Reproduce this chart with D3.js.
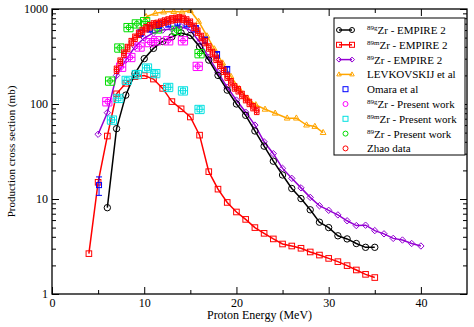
<!DOCTYPE html>
<html><head><meta charset="utf-8">
<script src="https://cdn.jsdelivr.net/npm/d3@7"></script>
<style>
body{margin:0;background:#fff}
svg{display:block}
text{font-family:"Liberation Serif","Times New Roman",serif;fill:#000}
</style>
</head><body>
<svg id="c" width="474" height="327"></svg>
<script>
// ---------------- data ----------------
const xTicks = [0, 10, 20, 30, 40];
const xMinorTicks = [5, 15, 25, 35];
const yTicks = [1, 10, 100, 1000];

// 89gZr - EMPIRE 2 (black circles)
const empGE  = [6,7,8,9,10,11,12,13,14,15,16,17,18,19,20,21,22,23,24,25,26,27,28,29,30,31,32,33,34,35];
const empGXs = [8.1,55,124,210,300,385,455,510,560,527,400,290,200,140,100,76,52,36,25,17.9,12.9,10.1,7.7,5.7,5.0,4.1,3.8,3.4,3.1,3.1];

// 89mZr - EMPIRE 2 (red squares)
const empME  = [4,5,6,7,8,9,10,11,12,13,14,15,16,17,18,19,20,21,22,23,24,25,26,27,28,29,30,31,32,33,34,35];
const empMXs = [2.66,15,46,128,165,194,199,183,146,106,89,73,47,19.4,12.7,9.2,7.3,6.1,5.0,4.35,3.8,3.36,3.2,3.03,2.77,2.57,2.37,2.19,1.99,1.79,1.61,1.49];

// 89Zr - EMPIRE 2 (violet diamonds)
const empE  = [5,6,7,8,9,10,11,12,13,14,15,16,17,18,19,20,21,22,23,24,25,26,27,28,29,30,31,32,33,34,35,36,37,38,39,40];
const empXs = [48,81,200,290,400,495,560,600,615,650,600,450,310,215,150,110,82,60,40,30,21,16.5,13.1,10.4,8.5,7.6,6.8,5.9,5.25,5.3,4.65,4.3,3.85,3.7,3.4,3.2];

// LEVKOVSKIJ et al (orange triangles)
const levE  = [10.2,11.2,12.1,13.2,14.1,15.0,15.9,16.8,17.6,18.5,19.4,20.3,21.2,22.1,23.1,24.2,25.5,26.5,27.6,28.5,29.4];
const levXs = [830,900,930,940,930,960,740,520,380,270,195,145,115,98,88,80,71,71,60,58,50];

// Omara et al (blue squares, y error bars)
const omaE   = [5.1,9.6,10.6,11.6,12.6,13.6,14.6,15.6,16.6,17.9,19.0];
const omaXs  = [14,560,620,680,700,720,700,620,470,330,230];
const omaErr = [0.22,0.08,0.08,0.08,0.08,0.08,0.08,0.08,0.08,0.08,0.08];

// 89gZr - Present work (magenta)
const pgE  = [6.0,7.5,8.5,9.5,10.6,11.3,12.6,14.2,15.8];
const pgXs = [106,245,310,400,445,465,465,465,250];

// 89mZr - Present work (cyan)
const pmE  = [6.5,7.2,8.1,9.2,10.3,11.2,12.6,14.2,16.0];
const pmXs = [68,115,178,205,240,210,150,138,88];

// 89Zr - Present work (green)
const ptE  = [6.3,7.3,8.3,9.2,10.1,11.4,13.5,16.0];
const ptXs = [175,390,640,700,740,620,600,340];

// Zhao data (red circles)
const zhE  = [7.0,7.4,7.8,8.2,8.6,9.0,9.4,9.8,10.2,10.6,11.0,11.4,11.8,12.2,12.6,13.0,13.4,13.8,14.2,14.6,15.0,15.4,15.8,16.2,16.6,17.0,17.4,17.8,18.2,18.6,19.0,19.4,19.8,20.2,20.6,21.0,21.4,21.8,22.2];
const zhXs = [230,280,340,390,450,500,550,590,630,660,690,700,720,740,760,780,790,800,790,760,720,650,580,510,450,395,345,300,260,225,195,170,150,140,125,113,103,93,85];

// ---------------- drawing ----------------
const svg = d3.select("#c");
const L = 52, R = 467, T = 9, B = 294;
const x = d3.scaleLinear().domain([0, 45]).range([L, R]);
const y = d3.scaleLog().domain([1, 1000]).range([B, T]);

const C = {
  black: "#000000", red: "#ff0000", violet: "#9400d3", orange: "#ffa500",
  blue: "#0000ff", magenta: "#ff00ff", cyan: "#00e0e0", green: "#00dd00", zhao: "#ff0000"
};

function marker(g, type, cx, cy, r, color) {
  if (type === "circle") {
    g.append("circle").attr("cx", cx).attr("cy", cy).attr("r", r)
      .attr("fill", "none").attr("stroke", color).attr("stroke-width", 1);
  } else if (type === "square") {
    g.append("rect").attr("x", cx - r).attr("y", cy - r).attr("width", 2 * r).attr("height", 2 * r)
      .attr("fill", "none").attr("stroke", color).attr("stroke-width", 1);
  } else if (type === "diamond") {
    g.append("path").attr("d", `M${cx},${cy - r}L${cx + r},${cy}L${cx},${cy + r}L${cx - r},${cy}Z`)
      .attr("fill", "none").attr("stroke", color).attr("stroke-width", 1);
  } else if (type === "triangle") {
    g.append("path").attr("d", `M${cx},${cy - r}L${cx + r * 0.9},${cy + r * 0.6}L${cx - r * 0.9},${cy + r * 0.6}Z`)
      .attr("fill", "none").attr("stroke", color).attr("stroke-width", 1);
  }
}

const plot = svg.append("g");
svg.append("clipPath").attr("id", "clip").append("rect")
  .attr("x", L).attr("y", T).attr("width", R - L).attr("height", B - T);
plot.attr("clip-path", "url(#clip)");

function lineSeries(E, V, color, type, r) {
  const pts = E.map((e, i) => [x(e), y(V[i])]);
  plot.append("path").attr("d", d3.line()(pts)).attr("fill", "none")
    .attr("stroke", color).attr("stroke-width", 1.5);
  const g = plot.append("g");
  pts.forEach(p => marker(g, type, p[0], p[1], r, color));
}

function errSeries(E, V, color, type, r, ex, ey, capW) {
  const g = plot.append("g").attr("stroke", color).attr("stroke-width", 1).attr("fill", "none");
  E.forEach((e, i) => {
    const v = V[i];
    const cx = x(e), cy = y(v);
    const eyi = Array.isArray(ey) ? ey[i] : ey;
    const y0 = y(v * (1 + eyi)), y1 = y(v * (1 - eyi));
    g.append("line").attr("x1", cx).attr("x2", cx).attr("y1", y0).attr("y2", y1);
    g.append("line").attr("x1", cx - capW).attr("x2", cx + capW).attr("y1", y0).attr("y2", y0);
    g.append("line").attr("x1", cx - capW).attr("x2", cx + capW).attr("y1", y1).attr("y2", y1);
    if (ex > 0) {
      const x0 = x(e - ex), x1 = x(e + ex);
      const hh = (y1 - y0) / 2;
      g.append("line").attr("x1", x0).attr("x2", x1).attr("y1", cy).attr("y2", cy);
      g.append("line").attr("x1", x0).attr("x2", x0).attr("y1", cy - hh).attr("y2", cy + hh);
      g.append("line").attr("x1", x1).attr("x2", x1).attr("y1", cy - hh).attr("y2", cy + hh);
    }
    marker(g, type, cx, cy, r, color);
  });
}

lineSeries(empE, empXs, C.violet, "diamond", 3.2);
lineSeries(empME, empMXs, C.red, "square", 2.8);
lineSeries(empGE, empGXs, C.black, "circle", 3.2);
lineSeries(levE, levXs, C.orange, "triangle", 3.2);

errSeries(ptE, ptXs, C.green, "circle", 2.5, 0.5, 0.1, 4.6);
errSeries(pgE, pgXs, C.magenta, "circle", 2.5, 0.5, 0.1, 4.6);
errSeries(pmE, pmXs, C.cyan, "square", 2.5, 0.5, 0.1, 4.6);
errSeries(omaE, omaXs, C.blue, "square", 2.5, 0, omaErr, 3);
errSeries(zhE, zhXs, C.zhao, "circle", 2.3, 0.25, 0.09, 2.5);

// ---------------- axes ----------------
const ax = svg.append("g");
function styleAxis(g) {
  g.select(".domain").remove();
  g.selectAll(".tick line").attr("stroke", "#000").attr("stroke-width", 1);
  g.selectAll("text").style("font-family", '"Liberation Serif","Times New Roman",serif').style("font-size", "12px").attr("fill", "#000");
}
ax.append("g").attr("transform", `translate(0,${B})`)
  .call(d3.axisBottom(x).tickValues(xTicks).tickSize(-7).tickPadding(4).tickFormat(d3.format("d"))).call(styleAxis);
ax.append("g").attr("transform", `translate(0,${B})`)
  .call(d3.axisBottom(x).tickValues(xMinorTicks).tickSize(-4).tickFormat("")).call(styleAxis);
ax.append("g").attr("transform", `translate(0,${T})`)
  .call(d3.axisTop(x).tickValues(xTicks).tickSize(-7).tickFormat("")).call(styleAxis);
ax.append("g").attr("transform", `translate(0,${T})`)
  .call(d3.axisTop(x).tickValues(xMinorTicks).tickSize(-4).tickFormat("")).call(styleAxis);

const yMinor = [];
[1, 10, 100].forEach(d => { for (let k = 2; k <= 9; k++) yMinor.push(d * k); });
ax.append("g").attr("transform", `translate(${L},0)`)
  .call(d3.axisLeft(y).tickValues(yTicks).tickSize(-7).tickPadding(4).tickFormat(d3.format("d"))).call(styleAxis);
ax.append("g").attr("transform", `translate(${L},0)`)
  .call(d3.axisLeft(y).tickValues(yMinor).tickSize(-4).tickFormat("")).call(styleAxis);
ax.append("g").attr("transform", `translate(${R},0)`)
  .call(d3.axisRight(y).tickValues(yTicks).tickSize(-7).tickFormat("")).call(styleAxis);
ax.append("g").attr("transform", `translate(${R},0)`)
  .call(d3.axisRight(y).tickValues(yMinor).tickSize(-4).tickFormat("")).call(styleAxis);

svg.append("rect").attr("x", L).attr("y", T).attr("width", R - L).attr("height", B - T)
  .attr("fill", "none").attr("stroke", "#000").attr("stroke-width", 1.3);

svg.append("text").attr("x", (L + R) / 2).attr("y", 319).attr("text-anchor", "middle")
  .style("font-size", "12px").text("Proton Energy (MeV)");
svg.append("text").attr("transform", `translate(15,${(T + B) / 2}) rotate(-90)`).attr("text-anchor", "middle")
  .style("font-size", "11px").text("Production cross section (mb)");

// ---------------- legend ----------------
const legendItems = [
  { sup: "89g", label: "Zr - EMPIRE 2", color: C.black, type: "circle", line: true },
  { sup: "89m", label: "Zr - EMPIRE 2", color: C.red, type: "square", line: true },
  { sup: "89", label: "Zr - EMPIRE 2", color: C.violet, type: "diamond", line: true },
  { sup: "", label: "LEVKOVSKIJ et al", color: C.orange, type: "triangle", line: true },
  { sup: "", label: "Omara et al", color: C.blue, type: "square", line: false },
  { sup: "89g", label: "Zr - Present work", color: C.magenta, type: "circle", line: false },
  { sup: "89m", label: "Zr - Present work", color: C.cyan, type: "square", line: false },
  { sup: "89", label: "Zr - Present work", color: C.green, type: "circle", line: false },
  { sup: "", label: "Zhao data", color: C.zhao, type: "circle", line: false }
];
const lg = svg.append("g");
lg.append("rect").attr("x", 334).attr("y", 18).attr("width", 131).attr("height", 137)
  .attr("fill", "#fff").attr("stroke", "#000").attr("stroke-width", 1);
legendItems.forEach((d, i) => {
  const cy = 30 + i * 14.8;
  if (d.line) {
    lg.append("line").attr("x1", 339).attr("x2", 352).attr("y1", cy).attr("y2", cy)
      .attr("stroke", d.color).attr("stroke-width", 1.5);
    marker(lg, d.type, 339, cy, 2.5, d.color);
    marker(lg, d.type, 352, cy, 2.5, d.color);
  } else {
    marker(lg, d.type, 345.5, cy, 2.5, d.color);
  }
  const t = lg.append("text").attr("x", 367).attr("y", cy + 4).style("font-size", "11px");
  if (d.sup) {
    t.append("tspan").attr("dy", -4).style("font-size", "7px").text(d.sup);
    t.append("tspan").attr("dy", 4).text(d.label);
  } else {
    t.text(d.label);
  }
});
</script>
</body></html>
